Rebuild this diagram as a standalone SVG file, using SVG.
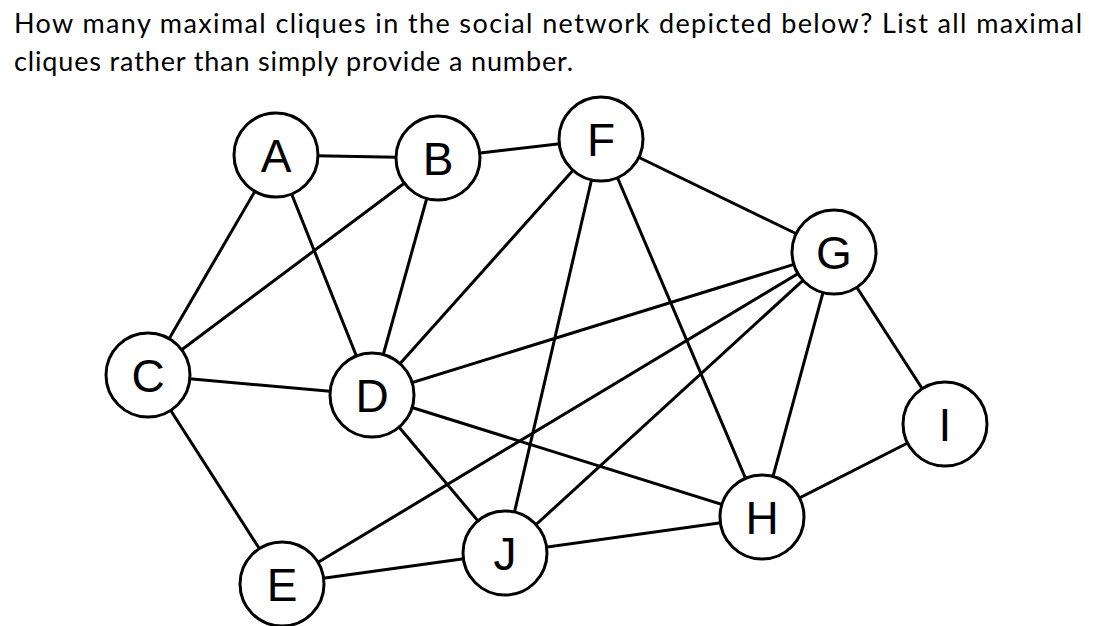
<svg xmlns="http://www.w3.org/2000/svg" width="1102" height="626" viewBox="0 0 1102 626">
<style>
.q{font-family:Lato,"Open Sans","Liberation Sans",sans-serif;font-size:27px;fill:#000}
.n circle{fill:#fff;stroke:#000;stroke-width:3}
.n text{font-family:"Liberation Sans",Arial,sans-serif;font-size:46px;text-anchor:middle;fill:#000}
#edges line{stroke:#000;stroke-width:3}
</style>
<rect width="1102" height="626" fill="#fff"/>
<text class="q" x="14" y="33" textLength="1068" lengthAdjust="spacing">How many maximal cliques in the social network depicted below? List all maximal</text>
<text class="q" x="14" y="71" textLength="559" lengthAdjust="spacing">cliques rather than simply provide a number.</text>
<g id="edges">
<line x1="276" y1="155" x2="438" y2="158"/>
<line x1="438" y1="158" x2="601" y2="139"/>
<line x1="276" y1="155" x2="148" y2="375"/>
<line x1="276" y1="155" x2="372" y2="395"/>
<line x1="438" y1="158" x2="148" y2="375"/>
<line x1="438" y1="158" x2="372" y2="395"/>
<line x1="601" y1="139" x2="372" y2="395"/>
<line x1="601" y1="139" x2="505" y2="553"/>
<line x1="601" y1="139" x2="762" y2="517"/>
<line x1="601" y1="139" x2="834" y2="252"/>
<line x1="834" y1="252" x2="372" y2="395"/>
<line x1="834" y1="252" x2="282" y2="584"/>
<line x1="834" y1="252" x2="505" y2="553"/>
<line x1="834" y1="252" x2="762" y2="517"/>
<line x1="834" y1="252" x2="945" y2="424"/>
<line x1="945" y1="424" x2="762" y2="517"/>
<line x1="148" y1="375" x2="372" y2="395"/>
<line x1="148" y1="375" x2="282" y2="584"/>
<line x1="372" y1="395" x2="505" y2="553"/>
<line x1="372" y1="395" x2="762" y2="517"/>
<line x1="282" y1="584" x2="505" y2="553"/>
<line x1="505" y1="553" x2="762" y2="517"/>
</g>
<g id="A" class="n"><circle cx="276" cy="155" r="42"/><text x="276" y="172">A</text></g>
<g id="B" class="n"><circle cx="438" cy="158" r="42"/><text x="438" y="175">B</text></g>
<g id="F" class="n"><circle cx="601" cy="139" r="42"/><text x="601" y="156">F</text></g>
<g id="C" class="n"><circle cx="148" cy="375" r="42"/><text x="148" y="392">C</text></g>
<g id="D" class="n"><circle cx="372" cy="395" r="42"/><text x="372" y="412">D</text></g>
<g id="G" class="n"><circle cx="834" cy="252" r="42"/><text x="834" y="269">G</text></g>
<g id="I" class="n"><circle cx="945" cy="424" r="42"/><text x="945" y="441">I</text></g>
<g id="H" class="n"><circle cx="762" cy="517" r="42"/><text x="762" y="534">H</text></g>
<g id="J" class="n"><circle cx="505" cy="553" r="42"/><text x="505" y="570">J</text></g>
<g id="E" class="n"><circle cx="282" cy="584" r="42"/><text x="282" y="601">E</text></g>
</svg>
